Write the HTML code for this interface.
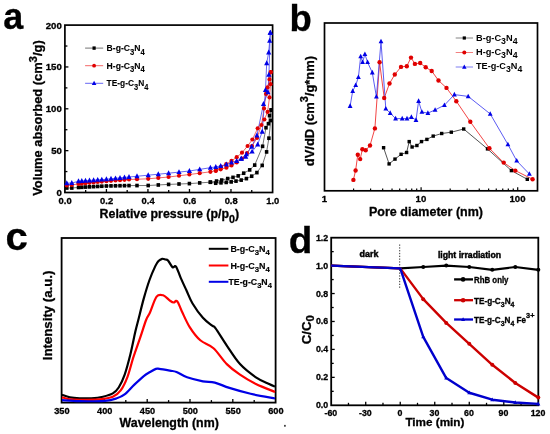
<!DOCTYPE html>
<html><head><meta charset="utf-8"><style>
html,body{margin:0;padding:0;background:#fff;width:550px;height:434px;overflow:hidden}
svg{position:absolute;left:0;top:0;filter:blur(0.3px)}
text{stroke:#000;stroke-width:0.3px}
</style></head><body>
<svg width="550" height="434" viewBox="0 0 550 434" font-family="'Liberation Sans', sans-serif" font-weight="bold">
<rect width="550" height="434" fill="#fff"/>
<text x="3.20" y="29.00" font-size="37" text-anchor="start" textLength="20.00" lengthAdjust="spacingAndGlyphs" >a</text>
<text x="289.60" y="30.50" font-size="37" text-anchor="start" textLength="22.30" lengthAdjust="spacingAndGlyphs" >b</text>
<text x="5.60" y="249.50" font-size="38" text-anchor="start" textLength="22.30" lengthAdjust="spacingAndGlyphs" >c</text>
<text x="288.80" y="253.20" font-size="37.5" text-anchor="start" textLength="23.60" lengthAdjust="spacingAndGlyphs" >d</text>
<line x1="85.66" y1="192.50" x2="85.66" y2="190.00" stroke="#000" stroke-width="1.3" />
<line x1="106.42" y1="192.50" x2="106.42" y2="189.00" stroke="#000" stroke-width="1.3" />
<line x1="127.18" y1="192.50" x2="127.18" y2="190.00" stroke="#000" stroke-width="1.3" />
<line x1="147.94" y1="192.50" x2="147.94" y2="189.00" stroke="#000" stroke-width="1.3" />
<line x1="168.70" y1="192.50" x2="168.70" y2="190.00" stroke="#000" stroke-width="1.3" />
<line x1="189.46" y1="192.50" x2="189.46" y2="189.00" stroke="#000" stroke-width="1.3" />
<line x1="210.22" y1="192.50" x2="210.22" y2="190.00" stroke="#000" stroke-width="1.3" />
<line x1="230.98" y1="192.50" x2="230.98" y2="189.00" stroke="#000" stroke-width="1.3" />
<line x1="251.74" y1="192.50" x2="251.74" y2="190.00" stroke="#000" stroke-width="1.3" />
<line x1="64.90" y1="171.57" x2="67.40" y2="171.57" stroke="#000" stroke-width="1.3" />
<line x1="64.90" y1="150.65" x2="68.40" y2="150.65" stroke="#000" stroke-width="1.3" />
<line x1="64.90" y1="129.72" x2="67.40" y2="129.72" stroke="#000" stroke-width="1.3" />
<line x1="64.90" y1="108.80" x2="68.40" y2="108.80" stroke="#000" stroke-width="1.3" />
<line x1="64.90" y1="87.88" x2="67.40" y2="87.88" stroke="#000" stroke-width="1.3" />
<line x1="64.90" y1="66.95" x2="68.40" y2="66.95" stroke="#000" stroke-width="1.3" />
<line x1="64.90" y1="46.03" x2="67.40" y2="46.03" stroke="#000" stroke-width="1.3" />
<rect x="64.9" y="25.1" width="207.70000000000002" height="167.4" fill="none" stroke="#000" stroke-width="1.7"/>
<text x="65.10" y="204.20" font-size="9.4" text-anchor="middle" >0.0</text>
<text x="106.62" y="204.20" font-size="9.4" text-anchor="middle" >0.2</text>
<text x="148.14" y="204.20" font-size="9.4" text-anchor="middle" >0.4</text>
<text x="189.66" y="204.20" font-size="9.4" text-anchor="middle" >0.6</text>
<text x="231.18" y="204.20" font-size="9.4" text-anchor="middle" >0.8</text>
<text x="272.70" y="204.20" font-size="9.4" text-anchor="middle" >1.0</text>
<text x="61.80" y="196.00" font-size="9.6" text-anchor="end" >0</text>
<text x="61.80" y="154.15" font-size="9.6" text-anchor="end" >50</text>
<text x="61.80" y="112.30" font-size="9.6" text-anchor="end" >100</text>
<text x="61.80" y="70.45" font-size="9.6" text-anchor="end" >150</text>
<text x="61.80" y="28.60" font-size="9.6" text-anchor="end" >200</text>
<text x="99.60" y="218.00" font-size="12.2" text-anchor="start" textLength="139.50" lengthAdjust="spacingAndGlyphs" >Relative pressure (p/p<tspan dy="4.5" font-size="10.5">0</tspan><tspan dy="-4.5">)</tspan></text>
<text transform="translate(42.00,195.80) rotate(-90)" x="0" y="0" font-size="12.9" textLength="155.50" lengthAdjust="spacingAndGlyphs">Volume absorbed (cm<tspan dy="-4.6" font-size="11.5">3</tspan><tspan dy="4.6">/g)</tspan></text>
<polyline points="66.80,188.00 71.80,188.00 78.50,187.44 81.80,187.25 85.50,187.06 89.50,186.86 93.60,186.64 97.70,186.43 101.80,186.22 106.40,185.99 111.00,185.90 115.50,185.82 120.00,185.73 124.50,185.65 129.00,185.59 137.00,185.55 148.20,185.50 158.30,184.96 168.60,184.40 179.00,184.00 189.40,183.60 199.70,182.91 210.40,182.20 215.70,183.20 221.00,182.80 226.20,182.40 231.20,181.90 236.00,181.10 241.20,180.10 246.40,178.60 251.70,176.20 256.90,172.60 262.20,165.40 266.60,151.90 268.90,138.20 270.80,120.50 271.20,110.00" fill="none" stroke="#505050" stroke-width="0.8" stroke-linejoin="round" />
<polyline points="271.20,110.00 269.50,115.60 268.40,123.70 266.00,127.70 262.60,146.30 254.70,165.10 249.70,169.90 243.70,173.20 238.20,175.90 233.00,177.40 227.70,178.60 221.70,180.10 216.50,181.10 210.40,182.20" fill="none" stroke="#505050" stroke-width="0.8" stroke-linejoin="round" />
<polyline points="66.80,185.50 71.80,185.00 78.50,183.88 81.80,183.53 85.50,183.17 89.50,182.79 93.60,182.39 97.70,182.00 101.80,181.60 106.40,181.17 111.00,180.82 115.50,180.48 120.00,180.13 124.50,179.79 129.00,179.52 137.00,179.22 148.20,178.80 158.30,177.91 168.60,177.00 179.00,175.75 189.40,174.50 199.70,173.18 210.40,171.80 215.80,170.80 220.70,169.30 226.40,167.70 231.50,165.50 236.70,162.50 242.00,158.50 247.00,153.00 252.00,146.00 257.00,138.00 261.50,125.00 264.00,108.40 266.00,93.90 267.60,87.40 269.50,79.40 270.80,72.10" fill="none" stroke="#f04040" stroke-width="0.8" stroke-linejoin="round" />
<polyline points="270.80,72.10 270.50,84.20 269.50,97.40 267.60,111.90 264.40,119.50 257.70,128.30 252.40,139.50 247.60,146.00 242.00,152.70 236.70,157.20 231.50,160.90 226.20,164.20 221.00,166.90 215.80,170.80" fill="none" stroke="#f04040" stroke-width="0.8" stroke-linejoin="round" />
<polyline points="66.80,183.20 71.80,183.00 78.50,181.32 81.80,181.00 85.50,180.74 89.50,180.46 93.60,180.17 97.70,179.88 101.80,179.60 106.40,179.26 111.00,178.80 115.50,178.35 120.00,177.90 124.50,177.45 129.00,177.01 137.00,176.26 148.20,175.20 158.30,174.21 168.60,173.20 179.00,172.10 189.40,171.00 199.70,169.38 210.40,167.70 215.80,166.90 220.70,165.90 226.40,164.40 231.50,162.40 236.70,160.90 241.20,158.70 245.70,156.70 252.10,151.60 257.70,144.50 262.20,131.70 265.50,90.00 266.70,63.20 268.70,52.40 269.70,40.70 270.30,32.80" fill="none" stroke="#4040f0" stroke-width="0.8" stroke-linejoin="round" />
<polyline points="270.30,32.80 268.90,74.80 267.90,92.30 263.50,103.90 256.90,135.50 251.70,146.70 246.40,154.20 241.20,158.70" fill="none" stroke="#4040f0" stroke-width="0.8" stroke-linejoin="round" />
<rect x="65.05" y="186.15" width="3.5" height="3.7" fill="#000"/>
<rect x="70.05" y="186.15" width="3.5" height="3.7" fill="#000"/>
<rect x="76.75" y="185.59" width="3.5" height="3.7" fill="#000"/>
<rect x="80.05" y="185.40" width="3.5" height="3.7" fill="#000"/>
<rect x="83.75" y="185.21" width="3.5" height="3.7" fill="#000"/>
<rect x="87.75" y="185.01" width="3.5" height="3.7" fill="#000"/>
<rect x="91.85" y="184.79" width="3.5" height="3.7" fill="#000"/>
<rect x="95.95" y="184.58" width="3.5" height="3.7" fill="#000"/>
<rect x="100.05" y="184.37" width="3.5" height="3.7" fill="#000"/>
<rect x="104.65" y="184.14" width="3.5" height="3.7" fill="#000"/>
<rect x="109.25" y="184.05" width="3.5" height="3.7" fill="#000"/>
<rect x="113.75" y="183.97" width="3.5" height="3.7" fill="#000"/>
<rect x="118.25" y="183.88" width="3.5" height="3.7" fill="#000"/>
<rect x="122.75" y="183.80" width="3.5" height="3.7" fill="#000"/>
<rect x="127.25" y="183.74" width="3.5" height="3.7" fill="#000"/>
<rect x="135.25" y="183.70" width="3.5" height="3.7" fill="#000"/>
<rect x="146.45" y="183.65" width="3.5" height="3.7" fill="#000"/>
<rect x="156.55" y="183.11" width="3.5" height="3.7" fill="#000"/>
<rect x="166.85" y="182.55" width="3.5" height="3.7" fill="#000"/>
<rect x="177.25" y="182.15" width="3.5" height="3.7" fill="#000"/>
<rect x="187.65" y="181.75" width="3.5" height="3.7" fill="#000"/>
<rect x="197.95" y="181.06" width="3.5" height="3.7" fill="#000"/>
<rect x="208.65" y="180.35" width="3.5" height="3.7" fill="#000"/>
<rect x="213.95" y="181.35" width="3.5" height="3.7" fill="#000"/>
<rect x="219.25" y="180.95" width="3.5" height="3.7" fill="#000"/>
<rect x="224.45" y="180.55" width="3.5" height="3.7" fill="#000"/>
<rect x="229.45" y="180.05" width="3.5" height="3.7" fill="#000"/>
<rect x="234.25" y="179.25" width="3.5" height="3.7" fill="#000"/>
<rect x="239.45" y="178.25" width="3.5" height="3.7" fill="#000"/>
<rect x="244.65" y="176.75" width="3.5" height="3.7" fill="#000"/>
<rect x="249.95" y="174.35" width="3.5" height="3.7" fill="#000"/>
<rect x="255.15" y="170.75" width="3.5" height="3.7" fill="#000"/>
<rect x="260.45" y="163.55" width="3.5" height="3.7" fill="#000"/>
<rect x="264.85" y="150.05" width="3.5" height="3.7" fill="#000"/>
<rect x="267.15" y="136.35" width="3.5" height="3.7" fill="#000"/>
<rect x="269.05" y="118.65" width="3.5" height="3.7" fill="#000"/>
<rect x="269.45" y="108.15" width="3.5" height="3.7" fill="#000"/>
<rect x="269.45" y="108.15" width="3.5" height="3.7" fill="#000"/>
<rect x="267.75" y="113.75" width="3.5" height="3.7" fill="#000"/>
<rect x="266.65" y="121.85" width="3.5" height="3.7" fill="#000"/>
<rect x="264.25" y="125.85" width="3.5" height="3.7" fill="#000"/>
<rect x="260.85" y="144.45" width="3.5" height="3.7" fill="#000"/>
<rect x="252.95" y="163.25" width="3.5" height="3.7" fill="#000"/>
<rect x="247.95" y="168.05" width="3.5" height="3.7" fill="#000"/>
<rect x="241.95" y="171.35" width="3.5" height="3.7" fill="#000"/>
<rect x="236.45" y="174.05" width="3.5" height="3.7" fill="#000"/>
<rect x="231.25" y="175.55" width="3.5" height="3.7" fill="#000"/>
<rect x="225.95" y="176.75" width="3.5" height="3.7" fill="#000"/>
<rect x="219.95" y="178.25" width="3.5" height="3.7" fill="#000"/>
<rect x="214.75" y="179.25" width="3.5" height="3.7" fill="#000"/>
<rect x="208.65" y="180.35" width="3.5" height="3.7" fill="#000"/>
<circle cx="66.80" cy="185.50" r="2.1" fill="#e00000"/>
<circle cx="71.80" cy="185.00" r="2.1" fill="#e00000"/>
<circle cx="78.50" cy="183.88" r="2.1" fill="#e00000"/>
<circle cx="81.80" cy="183.53" r="2.1" fill="#e00000"/>
<circle cx="85.50" cy="183.17" r="2.1" fill="#e00000"/>
<circle cx="89.50" cy="182.79" r="2.1" fill="#e00000"/>
<circle cx="93.60" cy="182.39" r="2.1" fill="#e00000"/>
<circle cx="97.70" cy="182.00" r="2.1" fill="#e00000"/>
<circle cx="101.80" cy="181.60" r="2.1" fill="#e00000"/>
<circle cx="106.40" cy="181.17" r="2.1" fill="#e00000"/>
<circle cx="111.00" cy="180.82" r="2.1" fill="#e00000"/>
<circle cx="115.50" cy="180.48" r="2.1" fill="#e00000"/>
<circle cx="120.00" cy="180.13" r="2.1" fill="#e00000"/>
<circle cx="124.50" cy="179.79" r="2.1" fill="#e00000"/>
<circle cx="129.00" cy="179.52" r="2.1" fill="#e00000"/>
<circle cx="137.00" cy="179.22" r="2.1" fill="#e00000"/>
<circle cx="148.20" cy="178.80" r="2.1" fill="#e00000"/>
<circle cx="158.30" cy="177.91" r="2.1" fill="#e00000"/>
<circle cx="168.60" cy="177.00" r="2.1" fill="#e00000"/>
<circle cx="179.00" cy="175.75" r="2.1" fill="#e00000"/>
<circle cx="189.40" cy="174.50" r="2.1" fill="#e00000"/>
<circle cx="199.70" cy="173.18" r="2.1" fill="#e00000"/>
<circle cx="210.40" cy="171.80" r="2.1" fill="#e00000"/>
<circle cx="215.80" cy="170.80" r="2.1" fill="#e00000"/>
<circle cx="220.70" cy="169.30" r="2.1" fill="#e00000"/>
<circle cx="226.40" cy="167.70" r="2.1" fill="#e00000"/>
<circle cx="231.50" cy="165.50" r="2.1" fill="#e00000"/>
<circle cx="236.70" cy="162.50" r="2.1" fill="#e00000"/>
<circle cx="242.00" cy="158.50" r="2.1" fill="#e00000"/>
<circle cx="247.00" cy="153.00" r="2.1" fill="#e00000"/>
<circle cx="252.00" cy="146.00" r="2.1" fill="#e00000"/>
<circle cx="257.00" cy="138.00" r="2.1" fill="#e00000"/>
<circle cx="261.50" cy="125.00" r="2.1" fill="#e00000"/>
<circle cx="264.00" cy="108.40" r="2.1" fill="#e00000"/>
<circle cx="266.00" cy="93.90" r="2.1" fill="#e00000"/>
<circle cx="267.60" cy="87.40" r="2.1" fill="#e00000"/>
<circle cx="269.50" cy="79.40" r="2.1" fill="#e00000"/>
<circle cx="270.80" cy="72.10" r="2.1" fill="#e00000"/>
<circle cx="270.80" cy="72.10" r="2.1" fill="#e00000"/>
<circle cx="270.50" cy="84.20" r="2.1" fill="#e00000"/>
<circle cx="269.50" cy="97.40" r="2.1" fill="#e00000"/>
<circle cx="267.60" cy="111.90" r="2.1" fill="#e00000"/>
<circle cx="264.40" cy="119.50" r="2.1" fill="#e00000"/>
<circle cx="257.70" cy="128.30" r="2.1" fill="#e00000"/>
<circle cx="252.40" cy="139.50" r="2.1" fill="#e00000"/>
<circle cx="247.60" cy="146.00" r="2.1" fill="#e00000"/>
<circle cx="242.00" cy="152.70" r="2.1" fill="#e00000"/>
<circle cx="236.70" cy="157.20" r="2.1" fill="#e00000"/>
<circle cx="231.50" cy="160.90" r="2.1" fill="#e00000"/>
<circle cx="226.20" cy="164.20" r="2.1" fill="#e00000"/>
<circle cx="221.00" cy="166.90" r="2.1" fill="#e00000"/>
<circle cx="215.80" cy="170.80" r="2.1" fill="#e00000"/>
<polygon points="66.80,180.24 64.20,185.18 69.40,185.18" fill="#0000e6"/>
<polygon points="71.80,180.04 69.20,184.98 74.40,184.98" fill="#0000e6"/>
<polygon points="78.50,178.36 75.90,183.30 81.10,183.30" fill="#0000e6"/>
<polygon points="81.80,178.04 79.20,182.98 84.40,182.98" fill="#0000e6"/>
<polygon points="85.50,177.78 82.90,182.72 88.10,182.72" fill="#0000e6"/>
<polygon points="89.50,177.50 86.90,182.44 92.10,182.44" fill="#0000e6"/>
<polygon points="93.60,177.21 91.00,182.15 96.20,182.15" fill="#0000e6"/>
<polygon points="97.70,176.92 95.10,181.86 100.30,181.86" fill="#0000e6"/>
<polygon points="101.80,176.63 99.20,181.57 104.40,181.57" fill="#0000e6"/>
<polygon points="106.40,176.30 103.80,181.24 109.00,181.24" fill="#0000e6"/>
<polygon points="111.00,175.84 108.40,180.78 113.60,180.78" fill="#0000e6"/>
<polygon points="115.50,175.39 112.90,180.33 118.10,180.33" fill="#0000e6"/>
<polygon points="120.00,174.94 117.40,179.88 122.60,179.88" fill="#0000e6"/>
<polygon points="124.50,174.49 121.90,179.43 127.10,179.43" fill="#0000e6"/>
<polygon points="129.00,174.05 126.40,178.99 131.60,178.99" fill="#0000e6"/>
<polygon points="137.00,173.29 134.40,178.23 139.60,178.23" fill="#0000e6"/>
<polygon points="148.20,172.24 145.60,177.18 150.80,177.18" fill="#0000e6"/>
<polygon points="158.30,171.25 155.70,176.19 160.90,176.19" fill="#0000e6"/>
<polygon points="168.60,170.24 166.00,175.18 171.20,175.18" fill="#0000e6"/>
<polygon points="179.00,169.14 176.40,174.08 181.60,174.08" fill="#0000e6"/>
<polygon points="189.40,168.04 186.80,172.98 192.00,172.98" fill="#0000e6"/>
<polygon points="199.70,166.42 197.10,171.36 202.30,171.36" fill="#0000e6"/>
<polygon points="210.40,164.74 207.80,169.68 213.00,169.68" fill="#0000e6"/>
<polygon points="215.80,163.94 213.20,168.88 218.40,168.88" fill="#0000e6"/>
<polygon points="220.70,162.94 218.10,167.88 223.30,167.88" fill="#0000e6"/>
<polygon points="226.40,161.44 223.80,166.38 229.00,166.38" fill="#0000e6"/>
<polygon points="231.50,159.44 228.90,164.38 234.10,164.38" fill="#0000e6"/>
<polygon points="236.70,157.94 234.10,162.88 239.30,162.88" fill="#0000e6"/>
<polygon points="241.20,155.74 238.60,160.68 243.80,160.68" fill="#0000e6"/>
<polygon points="245.70,153.74 243.10,158.68 248.30,158.68" fill="#0000e6"/>
<polygon points="252.10,148.64 249.50,153.58 254.70,153.58" fill="#0000e6"/>
<polygon points="257.70,141.54 255.10,146.48 260.30,146.48" fill="#0000e6"/>
<polygon points="262.20,128.74 259.60,133.68 264.80,133.68" fill="#0000e6"/>
<polygon points="265.50,87.04 262.90,91.98 268.10,91.98" fill="#0000e6"/>
<polygon points="266.70,60.24 264.10,65.18 269.30,65.18" fill="#0000e6"/>
<polygon points="268.70,49.44 266.10,54.38 271.30,54.38" fill="#0000e6"/>
<polygon points="269.70,37.74 267.10,42.68 272.30,42.68" fill="#0000e6"/>
<polygon points="270.30,29.84 267.70,34.78 272.90,34.78" fill="#0000e6"/>
<polygon points="270.30,29.84 267.70,34.78 272.90,34.78" fill="#0000e6"/>
<polygon points="268.90,71.84 266.30,76.78 271.50,76.78" fill="#0000e6"/>
<polygon points="267.90,89.34 265.30,94.28 270.50,94.28" fill="#0000e6"/>
<polygon points="263.50,100.94 260.90,105.88 266.10,105.88" fill="#0000e6"/>
<polygon points="256.90,132.54 254.30,137.48 259.50,137.48" fill="#0000e6"/>
<polygon points="251.70,143.74 249.10,148.68 254.30,148.68" fill="#0000e6"/>
<polygon points="246.40,151.24 243.80,156.18 249.00,156.18" fill="#0000e6"/>
<polygon points="241.20,155.74 238.60,160.68 243.80,160.68" fill="#0000e6"/>
<line x1="85.10" y1="48.10" x2="103.20" y2="48.10" stroke="#505050" stroke-width="0.8" />
<rect x="92.50" y="46.40" width="3.2" height="3.4" fill="#000"/>
<text x="106.60" y="51.40" font-size="9.3" text-anchor="start" textLength="38.20" lengthAdjust="spacingAndGlyphs" style="stroke-width:0.1px">B-g-C<tspan dy="3.2" font-size="8.3">3</tspan><tspan dy="-3.2">N</tspan><tspan dy="3.2" font-size="8.3">4</tspan></text>
<line x1="85.10" y1="65.70" x2="103.20" y2="65.70" stroke="#f04040" stroke-width="0.8" />
<circle cx="94.10" cy="65.70" r="1.9" fill="#e00000"/>
<text x="106.60" y="68.80" font-size="9.3" text-anchor="start" textLength="38.20" lengthAdjust="spacingAndGlyphs" style="stroke-width:0.1px">H-g-C<tspan dy="3.2" font-size="8.3">3</tspan><tspan dy="-3.2">N</tspan><tspan dy="3.2" font-size="8.3">4</tspan></text>
<line x1="85.10" y1="83.30" x2="103.20" y2="83.30" stroke="#4040f0" stroke-width="0.8" />
<polygon points="94.10,80.68 91.80,85.05 96.40,85.05" fill="#0000e6"/>
<text x="106.60" y="86.30" font-size="9.3" text-anchor="start" textLength="41.80" lengthAdjust="spacingAndGlyphs" style="stroke-width:0.1px">TE-g-C<tspan dy="3.2" font-size="8.3">3</tspan><tspan dy="-3.2">N</tspan><tspan dy="3.2" font-size="8.3">4</tspan></text>
<rect x="324.5" y="23.0" width="213.0" height="167.8" fill="none" stroke="#000" stroke-width="1.7"/>
<line x1="353.58" y1="190.80" x2="353.58" y2="188.50" stroke="#000" stroke-width="1.2" />
<line x1="370.59" y1="190.80" x2="370.59" y2="188.50" stroke="#000" stroke-width="1.2" />
<line x1="382.66" y1="190.80" x2="382.66" y2="188.50" stroke="#000" stroke-width="1.2" />
<line x1="392.02" y1="190.80" x2="392.02" y2="188.50" stroke="#000" stroke-width="1.2" />
<line x1="399.67" y1="190.80" x2="399.67" y2="188.50" stroke="#000" stroke-width="1.2" />
<line x1="406.14" y1="190.80" x2="406.14" y2="188.50" stroke="#000" stroke-width="1.2" />
<line x1="411.74" y1="190.80" x2="411.74" y2="188.50" stroke="#000" stroke-width="1.2" />
<line x1="416.68" y1="190.80" x2="416.68" y2="188.50" stroke="#000" stroke-width="1.2" />
<line x1="421.10" y1="190.80" x2="421.10" y2="187.30" stroke="#000" stroke-width="1.2" />
<line x1="450.18" y1="190.80" x2="450.18" y2="188.50" stroke="#000" stroke-width="1.2" />
<line x1="467.19" y1="190.80" x2="467.19" y2="188.50" stroke="#000" stroke-width="1.2" />
<line x1="479.26" y1="190.80" x2="479.26" y2="188.50" stroke="#000" stroke-width="1.2" />
<line x1="488.62" y1="190.80" x2="488.62" y2="188.50" stroke="#000" stroke-width="1.2" />
<line x1="496.27" y1="190.80" x2="496.27" y2="188.50" stroke="#000" stroke-width="1.2" />
<line x1="502.74" y1="190.80" x2="502.74" y2="188.50" stroke="#000" stroke-width="1.2" />
<line x1="508.34" y1="190.80" x2="508.34" y2="188.50" stroke="#000" stroke-width="1.2" />
<line x1="513.28" y1="190.80" x2="513.28" y2="188.50" stroke="#000" stroke-width="1.2" />
<line x1="517.70" y1="190.80" x2="517.70" y2="187.30" stroke="#000" stroke-width="1.2" />
<text x="324.30" y="202.40" font-size="9.6" text-anchor="middle" >1</text>
<text x="420.90" y="202.40" font-size="9.6" text-anchor="middle" >10</text>
<text x="517.50" y="202.40" font-size="9.6" text-anchor="middle" >100</text>
<text x="369.00" y="215.80" font-size="12.6" text-anchor="start" textLength="114.00" lengthAdjust="spacingAndGlyphs" >Pore diameter (nm)</text>
<text transform="translate(314.10,166.20) rotate(-90)" x="0" y="0" font-size="13" textLength="110.30" lengthAdjust="spacingAndGlyphs">dV/dD (cm<tspan dy="-6.2" font-size="11">3</tspan><tspan dy="6.2">/g*nm)</tspan></text>
<polyline points="383.60,147.70 389.10,163.90 395.00,159.10 401.10,154.30 406.60,152.50 409.20,141.60 412.10,147.00 416.90,145.50 421.50,141.60 426.90,139.40 433.20,136.10 441.70,133.50 451.30,132.20 463.70,129.00 487.50,148.90 511.40,170.60 527.30,179.30" fill="none" stroke="#404040" stroke-width="0.9" stroke-linejoin="round" />
<polyline points="353.40,179.90 355.60,170.50 357.80,154.70 360.20,159.10 362.40,149.20 365.70,150.30 370.00,145.50 374.90,128.40 379.60,62.30 384.20,98.00 389.50,83.50 394.80,74.50 401.00,66.90 406.80,66.20 411.00,57.60 414.90,63.90 420.20,63.00 425.70,67.30 431.70,71.00 438.50,80.50 446.50,87.90 456.30,101.20 470.30,121.80 489.40,148.30 503.70,162.60 515.30,170.60 532.60,179.30" fill="none" stroke="#f03030" stroke-width="0.9" stroke-linejoin="round" />
<polyline points="350.10,106.10 352.70,91.10 355.70,85.30 358.40,77.20 360.70,56.50 362.60,62.30 364.90,54.20 367.60,62.30 372.30,72.60 376.40,96.80 381.00,41.50 385.80,108.80 390.20,113.10 395.60,118.60 402.20,118.60 407.00,118.60 411.40,117.10 416.00,120.10 418.60,101.10 421.90,112.00 427.90,113.10 435.10,109.90 444.40,105.20 454.40,94.60 468.20,96.40 490.20,113.90 507.90,144.40 516.70,160.80 529.40,174.00" fill="none" stroke="#4848f0" stroke-width="0.9" stroke-linejoin="round" />
<rect x="381.90" y="146.00" width="3.4" height="3.4" fill="#000"/>
<rect x="387.40" y="162.20" width="3.4" height="3.4" fill="#000"/>
<rect x="393.30" y="157.40" width="3.4" height="3.4" fill="#000"/>
<rect x="399.40" y="152.60" width="3.4" height="3.4" fill="#000"/>
<rect x="404.90" y="150.80" width="3.4" height="3.4" fill="#000"/>
<rect x="407.50" y="139.90" width="3.4" height="3.4" fill="#000"/>
<rect x="410.40" y="145.30" width="3.4" height="3.4" fill="#000"/>
<rect x="415.20" y="143.80" width="3.4" height="3.4" fill="#000"/>
<rect x="419.80" y="139.90" width="3.4" height="3.4" fill="#000"/>
<rect x="425.20" y="137.70" width="3.4" height="3.4" fill="#000"/>
<rect x="431.50" y="134.40" width="3.4" height="3.4" fill="#000"/>
<rect x="440.00" y="131.80" width="3.4" height="3.4" fill="#000"/>
<rect x="449.60" y="130.50" width="3.4" height="3.4" fill="#000"/>
<rect x="462.00" y="127.30" width="3.4" height="3.4" fill="#000"/>
<rect x="485.80" y="147.20" width="3.4" height="3.4" fill="#000"/>
<rect x="509.70" y="168.90" width="3.4" height="3.4" fill="#000"/>
<rect x="525.60" y="177.60" width="3.4" height="3.4" fill="#000"/>
<circle cx="353.40" cy="179.90" r="2.2" fill="#e00000"/>
<circle cx="355.60" cy="170.50" r="2.2" fill="#e00000"/>
<circle cx="357.80" cy="154.70" r="2.2" fill="#e00000"/>
<circle cx="360.20" cy="159.10" r="2.2" fill="#e00000"/>
<circle cx="362.40" cy="149.20" r="2.2" fill="#e00000"/>
<circle cx="365.70" cy="150.30" r="2.2" fill="#e00000"/>
<circle cx="370.00" cy="145.50" r="2.2" fill="#e00000"/>
<circle cx="374.90" cy="128.40" r="2.2" fill="#e00000"/>
<circle cx="379.60" cy="62.30" r="2.2" fill="#e00000"/>
<circle cx="384.20" cy="98.00" r="2.2" fill="#e00000"/>
<circle cx="389.50" cy="83.50" r="2.2" fill="#e00000"/>
<circle cx="394.80" cy="74.50" r="2.2" fill="#e00000"/>
<circle cx="401.00" cy="66.90" r="2.2" fill="#e00000"/>
<circle cx="406.80" cy="66.20" r="2.2" fill="#e00000"/>
<circle cx="411.00" cy="57.60" r="2.2" fill="#e00000"/>
<circle cx="414.90" cy="63.90" r="2.2" fill="#e00000"/>
<circle cx="420.20" cy="63.00" r="2.2" fill="#e00000"/>
<circle cx="425.70" cy="67.30" r="2.2" fill="#e00000"/>
<circle cx="431.70" cy="71.00" r="2.2" fill="#e00000"/>
<circle cx="438.50" cy="80.50" r="2.2" fill="#e00000"/>
<circle cx="446.50" cy="87.90" r="2.2" fill="#e00000"/>
<circle cx="456.30" cy="101.20" r="2.2" fill="#e00000"/>
<circle cx="470.30" cy="121.80" r="2.2" fill="#e00000"/>
<circle cx="489.40" cy="148.30" r="2.2" fill="#e00000"/>
<circle cx="503.70" cy="162.60" r="2.2" fill="#e00000"/>
<circle cx="515.30" cy="170.60" r="2.2" fill="#e00000"/>
<circle cx="532.60" cy="179.30" r="2.2" fill="#e00000"/>
<polygon points="350.10,103.36 347.70,107.92 352.50,107.92" fill="#0000e6"/>
<polygon points="352.70,88.36 350.30,92.92 355.10,92.92" fill="#0000e6"/>
<polygon points="355.70,82.56 353.30,87.12 358.10,87.12" fill="#0000e6"/>
<polygon points="358.40,74.46 356.00,79.02 360.80,79.02" fill="#0000e6"/>
<polygon points="360.70,53.76 358.30,58.32 363.10,58.32" fill="#0000e6"/>
<polygon points="362.60,59.56 360.20,64.12 365.00,64.12" fill="#0000e6"/>
<polygon points="364.90,51.46 362.50,56.02 367.30,56.02" fill="#0000e6"/>
<polygon points="367.60,59.56 365.20,64.12 370.00,64.12" fill="#0000e6"/>
<polygon points="372.30,69.86 369.90,74.42 374.70,74.42" fill="#0000e6"/>
<polygon points="376.40,94.06 374.00,98.62 378.80,98.62" fill="#0000e6"/>
<polygon points="381.00,38.76 378.60,43.32 383.40,43.32" fill="#0000e6"/>
<polygon points="385.80,106.06 383.40,110.62 388.20,110.62" fill="#0000e6"/>
<polygon points="390.20,110.36 387.80,114.92 392.60,114.92" fill="#0000e6"/>
<polygon points="395.60,115.86 393.20,120.42 398.00,120.42" fill="#0000e6"/>
<polygon points="402.20,115.86 399.80,120.42 404.60,120.42" fill="#0000e6"/>
<polygon points="407.00,115.86 404.60,120.42 409.40,120.42" fill="#0000e6"/>
<polygon points="411.40,114.36 409.00,118.92 413.80,118.92" fill="#0000e6"/>
<polygon points="416.00,117.36 413.60,121.92 418.40,121.92" fill="#0000e6"/>
<polygon points="418.60,98.36 416.20,102.92 421.00,102.92" fill="#0000e6"/>
<polygon points="421.90,109.26 419.50,113.82 424.30,113.82" fill="#0000e6"/>
<polygon points="427.90,110.36 425.50,114.92 430.30,114.92" fill="#0000e6"/>
<polygon points="435.10,107.16 432.70,111.72 437.50,111.72" fill="#0000e6"/>
<polygon points="444.40,102.46 442.00,107.02 446.80,107.02" fill="#0000e6"/>
<polygon points="454.40,91.86 452.00,96.42 456.80,96.42" fill="#0000e6"/>
<polygon points="468.20,93.66 465.80,98.22 470.60,98.22" fill="#0000e6"/>
<polygon points="490.20,111.16 487.80,115.72 492.60,115.72" fill="#0000e6"/>
<polygon points="507.90,141.66 505.50,146.22 510.30,146.22" fill="#0000e6"/>
<polygon points="516.70,158.06 514.30,162.62 519.10,162.62" fill="#0000e6"/>
<polygon points="529.40,171.26 527.00,175.82 531.80,175.82" fill="#0000e6"/>
<line x1="455.70" y1="38.00" x2="473.00" y2="38.00" stroke="#777" stroke-width="0.9" />
<rect x="462.70" y="36.40" width="3.2" height="3.2" fill="#000"/>
<text x="476.00" y="40.90" font-size="9.5" text-anchor="start" textLength="41.50" lengthAdjust="spacingAndGlyphs" style="stroke-width:0">B-g-C<tspan dy="2.6" font-size="9.0">3</tspan><tspan dy="-2.6">N</tspan><tspan dy="2.6" font-size="9.0">4</tspan></text>
<line x1="455.70" y1="52.50" x2="473.00" y2="52.50" stroke="#f07070" stroke-width="0.9" />
<circle cx="464.30" cy="52.50" r="2.0" fill="#e00000"/>
<text x="476.00" y="55.20" font-size="9.5" text-anchor="start" textLength="41.50" lengthAdjust="spacingAndGlyphs" style="stroke-width:0">H-g-C<tspan dy="2.6" font-size="9.0">3</tspan><tspan dy="-2.6">N</tspan><tspan dy="2.6" font-size="9.0">4</tspan></text>
<line x1="455.70" y1="67.00" x2="473.00" y2="67.00" stroke="#7070f0" stroke-width="0.9" />
<polygon points="464.30,64.44 462.05,68.71 466.55,68.71" fill="#0000e6"/>
<text x="476.00" y="69.20" font-size="9.5" text-anchor="start" textLength="46.20" lengthAdjust="spacingAndGlyphs" style="stroke-width:0">TE-g-C<tspan dy="2.6" font-size="9.0">3</tspan><tspan dy="-2.6">N</tspan><tspan dy="2.6" font-size="9.0">4</tspan></text>
<line x1="83.00" y1="402.60" x2="83.00" y2="400.10" stroke="#000" stroke-width="1.3" />
<line x1="104.40" y1="402.60" x2="104.40" y2="399.10" stroke="#000" stroke-width="1.3" />
<line x1="125.80" y1="402.60" x2="125.80" y2="400.10" stroke="#000" stroke-width="1.3" />
<line x1="147.20" y1="402.60" x2="147.20" y2="399.10" stroke="#000" stroke-width="1.3" />
<line x1="168.60" y1="402.60" x2="168.60" y2="400.10" stroke="#000" stroke-width="1.3" />
<line x1="190.00" y1="402.60" x2="190.00" y2="399.10" stroke="#000" stroke-width="1.3" />
<line x1="211.40" y1="402.60" x2="211.40" y2="400.10" stroke="#000" stroke-width="1.3" />
<line x1="232.80" y1="402.60" x2="232.80" y2="399.10" stroke="#000" stroke-width="1.3" />
<line x1="254.20" y1="402.60" x2="254.20" y2="400.10" stroke="#000" stroke-width="1.3" />
<rect x="61.6" y="238.0" width="214.00000000000003" height="164.60000000000002" fill="none" stroke="#000" stroke-width="1.8"/>
<text x="61.90" y="414.00" font-size="9.2" text-anchor="middle" >350</text>
<text x="104.70" y="414.00" font-size="9.2" text-anchor="middle" >400</text>
<text x="147.50" y="414.00" font-size="9.2" text-anchor="middle" >450</text>
<text x="190.30" y="414.00" font-size="9.2" text-anchor="middle" >500</text>
<text x="233.10" y="414.00" font-size="9.2" text-anchor="middle" >550</text>
<text x="275.90" y="414.00" font-size="9.2" text-anchor="middle" >600</text>
<text x="119.60" y="426.80" font-size="12.4" text-anchor="start" textLength="99.20" lengthAdjust="spacingAndGlyphs" >Wavelength (nm)</text>
<text transform="translate(52.30,360.20) rotate(-90)" x="0" y="0" font-size="13.1" textLength="89.60" lengthAdjust="spacingAndGlyphs">Intensity (a.u.)</text>
<path d="M62.00,394.80 C63.30,395.22 66.87,396.72 69.80,397.30 C72.73,397.88 76.02,398.13 79.60,398.30 C83.18,398.47 87.40,398.57 91.30,398.30 C95.20,398.03 99.42,397.52 103.00,396.70 C106.58,395.88 110.18,394.93 112.80,393.40 C115.42,391.87 116.73,390.60 118.70,387.50 C120.67,384.40 122.65,380.35 124.60,374.80 C126.55,369.25 128.62,361.38 130.40,354.20 C132.18,347.02 133.98,337.40 135.30,331.70 C136.62,326.00 136.88,325.55 138.30,320.00 C139.72,314.45 141.93,305.07 143.80,298.40 C145.67,291.73 147.58,285.38 149.50,280.00 C151.42,274.62 153.80,269.27 155.30,266.10 C156.80,262.93 157.35,262.22 158.50,261.00 C159.65,259.78 161.03,259.05 162.20,258.80 C163.37,258.55 164.53,259.23 165.50,259.50 C166.47,259.77 166.82,259.10 168.00,260.40 C169.18,261.70 171.27,266.27 172.60,267.30 C173.93,268.33 174.67,264.88 176.00,266.60 C177.33,268.32 178.87,273.65 180.60,277.60 C182.33,281.55 184.43,286.03 186.40,290.30 C188.37,294.57 189.65,298.62 192.40,303.20 C195.15,307.78 199.60,314.05 202.90,317.80 C206.20,321.55 210.08,323.93 212.20,325.70 C214.32,327.47 213.17,325.08 215.60,328.40 C218.03,331.72 222.73,339.65 226.80,345.60 C230.87,351.55 235.15,358.82 240.00,364.10 C244.85,369.38 251.05,373.98 255.90,377.30 C260.75,380.62 265.92,382.45 269.10,384.00 C272.28,385.55 274.02,386.17 275.00,386.60" fill="none" stroke="#000" stroke-width="2.2" stroke-linejoin="round" />
<path d="M62.00,397.30 C63.30,397.63 66.87,398.88 69.80,399.30 C72.73,399.72 74.72,399.80 79.60,399.80 C84.48,399.80 93.57,399.82 99.10,399.30 C104.63,398.78 109.20,398.18 112.80,396.70 C116.40,395.22 118.25,393.72 120.70,390.40 C123.15,387.08 125.38,382.33 127.50,376.80 C129.62,371.27 131.28,363.73 133.40,357.20 C135.52,350.67 138.08,343.80 140.20,337.60 C142.32,331.40 144.47,324.18 146.10,320.00 C147.73,315.82 148.25,316.40 150.00,312.50 C151.75,308.60 154.40,299.47 156.60,296.60 C158.80,293.73 160.98,294.63 163.20,295.30 C165.42,295.97 168.15,299.40 169.90,300.60 C171.65,301.80 172.48,302.40 173.70,302.50 C174.92,302.60 175.85,299.75 177.20,301.20 C178.55,302.65 179.72,306.88 181.80,311.20 C183.88,315.52 186.62,322.25 189.70,327.10 C192.78,331.95 196.33,336.78 200.30,340.30 C204.27,343.82 209.08,344.23 213.50,348.20 C217.92,352.17 222.38,359.68 226.80,364.10 C231.22,368.52 235.15,371.38 240.00,374.70 C244.85,378.02 250.07,381.13 255.90,384.00 C261.73,386.87 271.82,390.58 275.00,391.90" fill="none" stroke="#ff0000" stroke-width="2.2" stroke-linejoin="round" />
<path d="M62.00,400.20 C64.93,400.37 72.43,401.10 79.60,401.20 C86.77,401.30 98.80,401.28 105.00,400.80 C111.20,400.32 113.53,399.37 116.80,398.30 C120.07,397.23 121.67,396.68 124.60,394.40 C127.53,392.12 131.15,387.70 134.40,384.60 C137.65,381.50 141.50,377.90 144.10,375.80 C146.70,373.70 148.03,373.15 150.00,372.00 C151.97,370.85 154.35,369.42 155.90,368.90 C157.45,368.38 156.97,368.60 159.30,368.90 C161.63,369.20 167.03,370.18 169.90,370.70 C172.77,371.22 173.63,370.90 176.50,372.00 C179.37,373.10 182.70,375.75 187.10,377.30 C191.50,378.85 198.28,380.42 202.90,381.30 C207.52,382.18 210.38,381.50 214.80,382.60 C219.22,383.70 223.43,386.03 229.40,387.90 C235.37,389.77 243.00,392.03 250.60,393.80 C258.20,395.57 270.93,397.72 275.00,398.50" fill="none" stroke="#0000e6" stroke-width="2.2" stroke-linejoin="round" />
<line x1="208.80" y1="248.80" x2="228.40" y2="248.80" stroke="#000" stroke-width="2.0" />
<text x="230.40" y="251.80" font-size="9.1" text-anchor="start" textLength="39.40" lengthAdjust="spacingAndGlyphs" style="stroke-width:0.15px">B-g-C<tspan dy="3.3" font-size="7.9">3</tspan><tspan dy="-3.3">N</tspan><tspan dy="3.3" font-size="7.9">4</tspan></text>
<line x1="208.80" y1="265.50" x2="228.40" y2="265.50" stroke="#ff0000" stroke-width="2.0" />
<text x="230.40" y="268.50" font-size="9.1" text-anchor="start" textLength="39.40" lengthAdjust="spacingAndGlyphs" style="stroke-width:0.15px">H-g-C<tspan dy="3.3" font-size="7.9">3</tspan><tspan dy="-3.3">N</tspan><tspan dy="3.3" font-size="7.9">4</tspan></text>
<line x1="208.80" y1="281.80" x2="228.40" y2="281.80" stroke="#0000e6" stroke-width="2.0" />
<text x="228.50" y="285.00" font-size="9.1" text-anchor="start" textLength="43.40" lengthAdjust="spacingAndGlyphs" style="stroke-width:0.15px">TE-g-C<tspan dy="3.3" font-size="7.9">3</tspan><tspan dy="-3.3">N</tspan><tspan dy="3.3" font-size="7.9">4</tspan></text>
<line x1="348.46" y1="405.30" x2="348.46" y2="402.80" stroke="#000" stroke-width="1.3" />
<line x1="365.72" y1="405.30" x2="365.72" y2="401.80" stroke="#000" stroke-width="1.3" />
<line x1="382.98" y1="405.30" x2="382.98" y2="402.80" stroke="#000" stroke-width="1.3" />
<line x1="400.24" y1="405.30" x2="400.24" y2="401.80" stroke="#000" stroke-width="1.3" />
<line x1="417.50" y1="405.30" x2="417.50" y2="402.80" stroke="#000" stroke-width="1.3" />
<line x1="434.75" y1="405.30" x2="434.75" y2="401.80" stroke="#000" stroke-width="1.3" />
<line x1="452.01" y1="405.30" x2="452.01" y2="402.80" stroke="#000" stroke-width="1.3" />
<line x1="469.27" y1="405.30" x2="469.27" y2="401.80" stroke="#000" stroke-width="1.3" />
<line x1="486.53" y1="405.30" x2="486.53" y2="402.80" stroke="#000" stroke-width="1.3" />
<line x1="503.79" y1="405.30" x2="503.79" y2="401.80" stroke="#000" stroke-width="1.3" />
<line x1="521.05" y1="405.30" x2="521.05" y2="402.80" stroke="#000" stroke-width="1.3" />
<line x1="331.20" y1="391.33" x2="333.70" y2="391.33" stroke="#000" stroke-width="1.3" />
<line x1="331.20" y1="377.36" x2="334.70" y2="377.36" stroke="#000" stroke-width="1.3" />
<line x1="331.20" y1="363.39" x2="333.70" y2="363.39" stroke="#000" stroke-width="1.3" />
<line x1="331.20" y1="349.42" x2="334.70" y2="349.42" stroke="#000" stroke-width="1.3" />
<line x1="331.20" y1="335.45" x2="333.70" y2="335.45" stroke="#000" stroke-width="1.3" />
<line x1="331.20" y1="321.48" x2="334.70" y2="321.48" stroke="#000" stroke-width="1.3" />
<line x1="331.20" y1="307.51" x2="333.70" y2="307.51" stroke="#000" stroke-width="1.3" />
<line x1="331.20" y1="293.54" x2="334.70" y2="293.54" stroke="#000" stroke-width="1.3" />
<line x1="331.20" y1="279.57" x2="333.70" y2="279.57" stroke="#000" stroke-width="1.3" />
<line x1="331.20" y1="265.60" x2="334.70" y2="265.60" stroke="#000" stroke-width="1.3" />
<line x1="331.20" y1="251.63" x2="333.70" y2="251.63" stroke="#000" stroke-width="1.3" />
<rect x="331.2" y="237.7" width="207.09999999999997" height="167.60000000000002" fill="none" stroke="#000" stroke-width="1.8"/>
<text x="330.90" y="416.20" font-size="8.8" text-anchor="middle" >-60</text>
<text x="365.42" y="416.20" font-size="8.8" text-anchor="middle" >-30</text>
<text x="399.94" y="416.20" font-size="8.8" text-anchor="middle" >0</text>
<text x="434.45" y="416.20" font-size="8.8" text-anchor="middle" >30</text>
<text x="468.97" y="416.20" font-size="8.8" text-anchor="middle" >60</text>
<text x="503.49" y="416.20" font-size="8.8" text-anchor="middle" >90</text>
<text x="538.01" y="416.20" font-size="8.8" text-anchor="middle" >120</text>
<text x="328.20" y="408.30" font-size="8.8" text-anchor="end" >0.0</text>
<text x="328.20" y="380.36" font-size="8.8" text-anchor="end" >0.2</text>
<text x="328.20" y="352.42" font-size="8.8" text-anchor="end" >0.4</text>
<text x="328.20" y="324.48" font-size="8.8" text-anchor="end" >0.6</text>
<text x="328.20" y="296.54" font-size="8.8" text-anchor="end" >0.8</text>
<text x="328.20" y="268.60" font-size="8.8" text-anchor="end" >1.0</text>
<text x="328.20" y="240.66" font-size="8.8" text-anchor="end" >1.2</text>
<text x="405.40" y="425.80" font-size="11.7" text-anchor="start" textLength="59.00" lengthAdjust="spacingAndGlyphs" >Time (min)</text>
<text transform="translate(310.80,344.20) rotate(-90)" x="0" y="0" font-size="13.2">C/C<tspan dy="3.6" font-size="11.5">0</tspan></text>
<line x1="399.70" y1="244.50" x2="399.70" y2="289.00" stroke="#333" stroke-width="1.0" stroke-dasharray="1.3,1.5"/>
<text x="359.60" y="256.90" font-size="8.8" text-anchor="start" textLength="18.80" lengthAdjust="spacingAndGlyphs" style="stroke-width:0.45px">dark</text>
<text x="437.90" y="258.20" font-size="8.9" text-anchor="start" textLength="63.20" lengthAdjust="spacingAndGlyphs" style="stroke-width:0.45px">light irradiation</text>
<polyline points="331.20,265.60 400.24,268.39 423.25,267.00 446.26,265.60 469.27,267.00 492.28,269.79 515.30,267.00 538.31,269.79" fill="none" stroke="#000" stroke-width="2.2" stroke-linejoin="round" />
<polyline points="331.20,265.60 400.24,268.39 423.25,299.13 446.26,322.88 469.27,343.83 492.28,364.79 515.30,382.95 538.31,397.62" fill="none" stroke="#cc0000" stroke-width="2.4" stroke-linejoin="round" />
<polyline points="331.20,265.60 400.24,268.39 423.25,336.85 446.26,378.06 469.27,392.73 492.28,399.71 515.30,402.51 538.31,403.90" fill="none" stroke="#0000cc" stroke-width="2.4" stroke-linejoin="round" />
<circle cx="423.25" cy="267.00" r="2.0" fill="#000"/>
<circle cx="446.26" cy="265.60" r="2.0" fill="#000"/>
<circle cx="469.27" cy="267.00" r="2.0" fill="#000"/>
<circle cx="492.28" cy="269.79" r="2.0" fill="#000"/>
<circle cx="515.30" cy="267.00" r="2.0" fill="#000"/>
<circle cx="538.31" cy="269.79" r="2.0" fill="#000"/>
<circle cx="423.25" cy="299.13" r="2.0" fill="#cc0000"/>
<circle cx="446.26" cy="322.88" r="2.0" fill="#cc0000"/>
<circle cx="469.27" cy="343.83" r="2.0" fill="#cc0000"/>
<circle cx="492.28" cy="364.79" r="2.0" fill="#cc0000"/>
<circle cx="515.30" cy="382.95" r="2.0" fill="#cc0000"/>
<circle cx="538.31" cy="397.62" r="2.0" fill="#cc0000"/>
<polygon points="423.25,334.57 421.25,338.37 425.25,338.37" fill="#0000cc"/>
<polygon points="446.26,375.78 444.26,379.58 448.26,379.58" fill="#0000cc"/>
<polygon points="469.27,390.45 467.27,394.25 471.27,394.25" fill="#0000cc"/>
<polygon points="492.28,397.43 490.28,401.23 494.28,401.23" fill="#0000cc"/>
<polygon points="515.30,400.23 513.30,404.03 517.30,404.03" fill="#0000cc"/>
<polygon points="538.31,401.62 536.31,405.42 540.31,405.42" fill="#0000cc"/>
<line x1="454.10" y1="279.40" x2="473.00" y2="279.40" stroke="#000" stroke-width="2.3" />
<circle cx="463.10" cy="279.40" r="2.3" fill="#000"/>
<text x="474.00" y="282.50" font-size="8.4" text-anchor="start" textLength="34.50" lengthAdjust="spacingAndGlyphs" >RhB only</text>
<line x1="454.10" y1="300.20" x2="473.00" y2="300.20" stroke="#cc0000" stroke-width="2.3" />
<circle cx="463.10" cy="300.20" r="2.3" fill="#cc0000"/>
<text x="474.00" y="303.60" font-size="8.4" text-anchor="start" textLength="40.50" lengthAdjust="spacingAndGlyphs" >TE-g-C<tspan dy="3.0" font-size="7.2">3</tspan><tspan dy="-3.0">N</tspan><tspan dy="3.0" font-size="7.2">4</tspan></text>
<line x1="454.10" y1="319.50" x2="473.00" y2="319.50" stroke="#0000cc" stroke-width="2.3" />
<polygon points="463.10,317.22 461.10,321.02 465.10,321.02" fill="#0000cc"/>
<text x="474.00" y="322.70" font-size="8.4" text-anchor="start" textLength="60.50" lengthAdjust="spacingAndGlyphs" >TE-g-C<tspan dy="3.0" font-size="7.2">3</tspan><tspan dy="-3.0">N</tspan><tspan dy="3.0" font-size="7.2">4</tspan><tspan dy="-3.0"> Fe</tspan><tspan dy="-4.5" font-size="7.6">3+</tspan></text>
<rect x="284.00" y="424.90" width="1.8" height="1.8" fill="#444"/>
</svg></body></html>
